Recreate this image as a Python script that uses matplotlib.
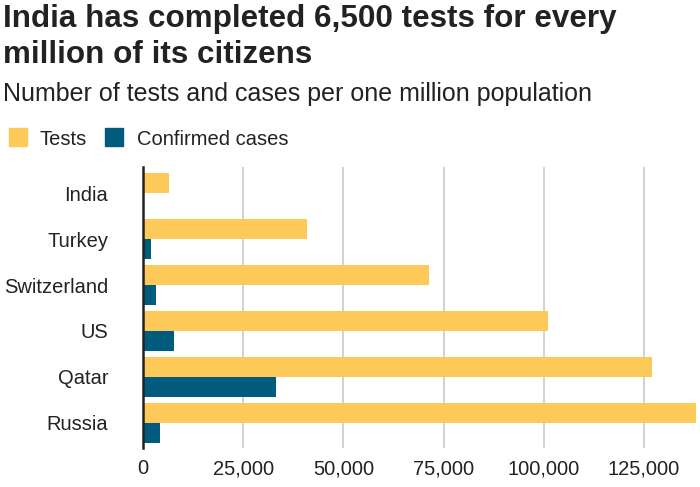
import matplotlib.pyplot as plt
import numpy as np
from matplotlib.patches import Rectangle
from matplotlib.ticker import FuncFormatter

plt.rcParams['font.family'] = ['Liberation Sans', 'DejaVu Sans']

countries = ['India', 'Turkey', 'Switzerland', 'US', 'Qatar', 'Russia']
tests = [6500, 41000, 71300, 101000, 126900, 138500]
cases = [300, 2000, 3300, 7750, 33300, 4200]
ticks = [0, 25000, 50000, 75000, 100000, 125000]

yellow = '#FDCA5A'
teal = '#005B7E'
ink = '#222222'
W, H = 700, 487

fig = plt.figure(figsize=(7, 4.87), dpi=100)
ax = fig.add_axes([143 / W, 1 - 448 / H, 553 / W, 281 / H])

y = np.arange(len(countries))
h = 0.44
ax.barh(y - h / 2, tests, height=h, color=yellow)
ax.barh(y + h / 2, cases, height=h, color=teal)

ax.set_xlim(0, 138000)
ax.set_ylim(5.55, -0.57)
ax.set_yticks(y)
ax.set_yticklabels(countries, fontsize=14.5, color=ink)
ax.set_xticks(ticks)
ax.xaxis.set_major_formatter(FuncFormatter(lambda v, p: f'{int(v):,}'))
ax.tick_params(axis='x', length=0, labelsize=14.5, labelcolor=ink, pad=8)
ax.tick_params(axis='y', length=0, pad=25)
ax.grid(axis='x', color='#cbcbcb', linewidth=1.2)
ax.set_axisbelow(True)
for s in ['top', 'right', 'bottom']:
    ax.spines[s].set_visible(False)
ax.spines['left'].set_linewidth(1.8)
ax.spines['left'].set_color(ink)
ax.spines['left'].set_zorder(5)

fig.text(3 / W, 1 - 27 / H, 'India has completed 6,500 tests for every',
         fontsize=22.6, fontweight='bold', color=ink, va='baseline', ha='left')
fig.text(3 / W, 1 - 63 / H, 'million of its citizens',
         fontsize=22.6, fontweight='bold', color=ink, va='baseline', ha='left')
fig.text(3 / W, 1 - 101 / H, 'Number of tests and cases per one million population',
         fontsize=18, color=ink, va='baseline', ha='left')

# legend
for x0, col, lab, tx in [(9, yellow, 'Tests', 40), (105, teal, 'Confirmed cases', 137)]:
    fig.add_artist(Rectangle((x0 / W, 1 - 146 / H), 18 / W, 18 / H,
                             transform=fig.transFigure, color=col))
    fig.text(tx / W, 1 - 145 / H, lab, fontsize=14.5, color=ink, va='baseline', ha='left')

fig.savefig('out.png', dpi=100)
